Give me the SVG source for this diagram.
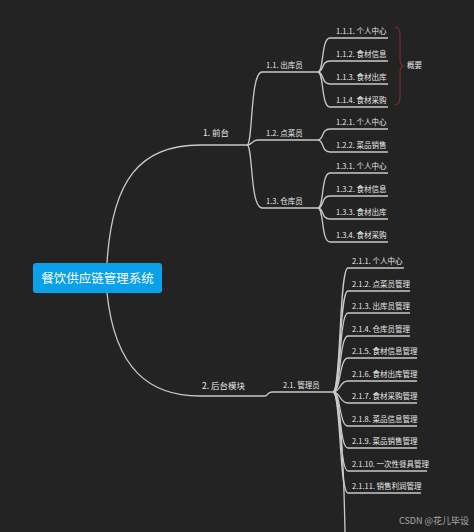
<svg xmlns="http://www.w3.org/2000/svg" width="474" height="532" viewBox="0 0 474 532">
<style>
.ln{fill:none;stroke:#c9c9c9;stroke-width:1.3}
.t{font-family:"Noto Sans CJK SC","Liberation Sans",sans-serif;font-size:7.5px;fill:#e8e8e8}
.b{font-family:"Noto Sans CJK SC","Liberation Sans",sans-serif;font-size:8.5px;fill:#e8e8e8}
.r{font-family:"Noto Sans CJK SC","Liberation Sans",sans-serif;font-size:12.5px;fill:#ffffff}
</style>
<rect width="474" height="532" fill="#232323"/>
<g id="connectors">
<path class="ln" d="M107 263 C112 180,140 145,200 145 L247 145"/>
<path class="ln" d="M107 293 C115 370,150 396,200 396 L265 396 C268 396,267 392,272 392 L333 392"/>
<path class="ln" d="M247 145 C253 145,250 72,262 72 L318 72"/>
<path class="ln" d="M247 145 C252 145,252 140,258 140 L318 140"/>
<path class="ln" d="M247 145 C253 145,250 208,262 208 L318 208"/>
<path class="ln" d="M318 72 C324 72,321 38,330 38 L388 38"/>
<path class="ln" d="M318 72 C324 72,321 61,330 61 L388 61"/>
<path class="ln" d="M318 72 C324 72,321 84,330 84 L388 84"/>
<path class="ln" d="M318 72 C324 72,321 107,330 107 L388 107"/>
<path class="ln" d="M318 140 C324 140,321 129,330 129 L388 129"/>
<path class="ln" d="M318 140 C324 140,321 152,330 152 L388 152"/>
<path class="ln" d="M318 208 C324 208,321 173,330 173 L388 173"/>
<path class="ln" d="M318 208 C324 208,321 196,330 196 L388 196"/>
<path class="ln" d="M318 208 C324 208,321 219,330 219 L388 219"/>
<path class="ln" d="M318 208 C324 208,321 242,330 242 L388 242"/>
<path class="ln" d="M333 392 C341 392,339 268,348 268 L404 268"/>
<path class="ln" d="M333 392 C341 392,339 291,348 291 L410 291"/>
<path class="ln" d="M333 392 C341 392,339 313,348 313 L410 313"/>
<path class="ln" d="M333 392 C341 392,339 336,348 336 L410 336"/>
<path class="ln" d="M333 392 C341 392,339 358,348 358 L417 358"/>
<path class="ln" d="M333 392 C341 392,339 381,348 381 L417 381"/>
<path class="ln" d="M333 392 C341 392,339 403,348 403 L417 403"/>
<path class="ln" d="M333 392 C341 392,339 426,348 426 L417 426"/>
<path class="ln" d="M333 392 C341 392,339 448,348 448 L417 448"/>
<path class="ln" d="M333 392 C341 392,339 471,348 471 L427 471"/>
<path class="ln" d="M333 392 C341 392,339 493,348 493 L421 493"/>
<path class="ln" d="M333 392 C341 392,344 480,345 532"/>
<path fill="none" stroke="#7c2a30" stroke-width="1.2" d="M395 27 Q400 27 400 35 L400 60 Q400 65 404 66 Q400 67 400 72 L400 97 Q400 105 395 105"/>
</g>
<g id="root">
<rect x="33" y="263" width="129" height="30" rx="3" fill="#0aa0ea"/>
<text class="r" x="97.5" y="282.5" text-anchor="middle">餐饮供应链管理系统</text>
</g>
<g id="n1"><text class="b" x="203" y="136">1. 前台</text></g>
<g id="n11"><text class="t" x="266" y="68">1.1. 出库员</text></g>
<g id="n111"><text class="t" x="336" y="34">1.1.1. 个人中心</text></g>
<g id="n112"><text class="t" x="336" y="57">1.1.2. 食材信息</text></g>
<g id="n113"><text class="t" x="336" y="80">1.1.3. 食材出库</text></g>
<g id="n114"><text class="t" x="336" y="103">1.1.4. 食材采购</text></g>
<g id="summary"><text class="t" x="407" y="68">概要</text></g>
<g id="n12"><text class="t" x="266" y="136">1.2. 点菜员</text></g>
<g id="n121"><text class="t" x="336" y="125">1.2.1. 个人中心</text></g>
<g id="n122"><text class="t" x="336" y="148">1.2.2. 菜品销售</text></g>
<g id="n13"><text class="t" x="266" y="204">1.3. 仓库员</text></g>
<g id="n131"><text class="t" x="336" y="169">1.3.1. 个人中心</text></g>
<g id="n132"><text class="t" x="336" y="192">1.3.2. 食材信息</text></g>
<g id="n133"><text class="t" x="336" y="215">1.3.3. 食材出库</text></g>
<g id="n134"><text class="t" x="336" y="238">1.3.4. 食材采购</text></g>
<g id="n2"><text class="b" x="202" y="389">2. 后台模块</text></g>
<g id="n21"><text class="t" x="283" y="388">2.1. 管理员</text></g>
<g id="n211"><text class="t" x="352" y="264">2.1.1. 个人中心</text></g>
<g id="n212"><text class="t" x="352" y="287">2.1.2. 点菜员管理</text></g>
<g id="n213"><text class="t" x="352" y="309">2.1.3. 出库员管理</text></g>
<g id="n214"><text class="t" x="352" y="332">2.1.4. 仓库员管理</text></g>
<g id="n215"><text class="t" x="352" y="354">2.1.5. 食材信息管理</text></g>
<g id="n216"><text class="t" x="352" y="377">2.1.6. 食材出库管理</text></g>
<g id="n217"><text class="t" x="352" y="399">2.1.7. 食材采购管理</text></g>
<g id="n218"><text class="t" x="352" y="422">2.1.8. 菜品信息管理</text></g>
<g id="n219"><text class="t" x="352" y="444">2.1.9. 菜品销售管理</text></g>
<g id="n2110"><text class="t" x="352" y="467">2.1.10. 一次性餐具管理</text></g>
<g id="n2111"><text class="t" x="352" y="489">2.1.11. 销售利润管理</text></g>
<text x="469" y="524" text-anchor="end" font-family="Noto Sans CJK SC, Liberation Sans, sans-serif" font-size="9" fill="#a8a8a8">CSDN @花儿毕设</text>
</svg>
